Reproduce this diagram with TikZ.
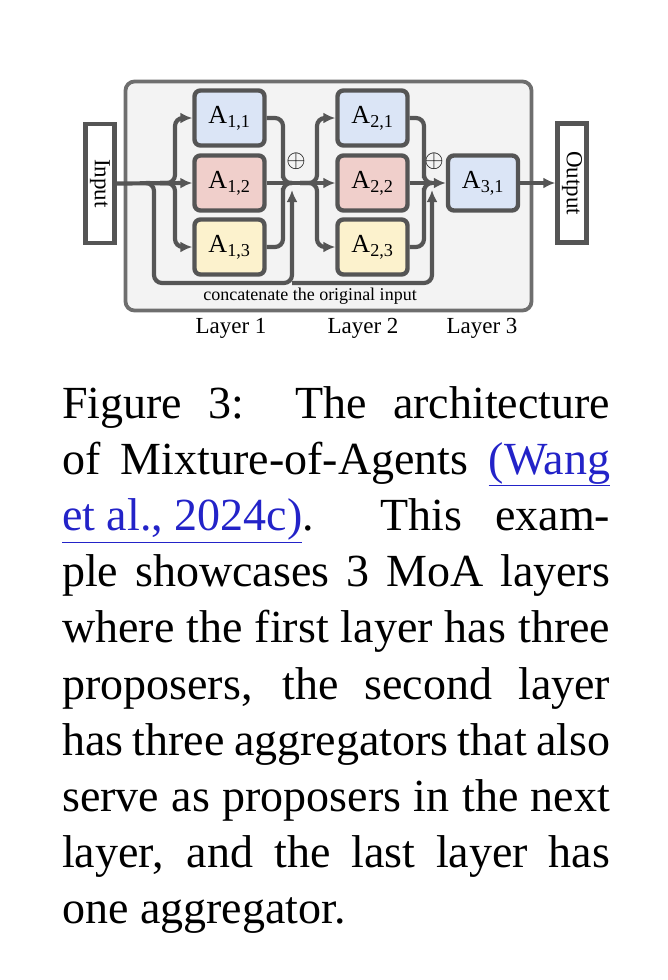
\documentclass[tikz,border=0pt]{standalone}
\usepackage{fontspec}
\setmainfont{Liberation Serif}
\usetikzlibrary{arrows.meta,positioning}
\definecolor{Agent-B}{RGB}{219, 229, 246}
\definecolor{Agent-R}{RGB}{240, 207, 203}
\definecolor{Agent-Y}{RGB}{252, 242, 205}
\definecolor{Line-G}{RGB}{85, 85, 85}
\definecolor{Box-G}{RGB}{243, 243, 243}
\definecolor{Link-B}{RGB}{35, 35, 200}

\begin{document}
\begin{tikzpicture}[x=1pt, y=-1pt, font=\fontsize{23}{25}\selectfont,
  agent/.style={rectangle, rounded corners=6pt, draw=Line-G, line width=4.4pt, minimum width=70pt, minimum height=55pt, inner sep=0pt, font=\fontsize{26}{28}\selectfont},
  io/.style={rectangle, draw=Line-G, line width=4.4pt, fill=white, minimum width=119pt, minimum height=29pt, inner sep=0pt, rotate=-90},
  flow/.style={draw=Line-G, line width=4.2pt, rounded corners=8pt},
  arr/.style={flow, -{Latex[length=12pt,width=11pt]}}]

\useasboundingbox (0,0) rectangle (668,980);

\node [rectangle, rounded corners=9pt, draw=Line-G!85, fill=Box-G, line width=3.8pt, minimum width=406pt, minimum height=229pt] (moa) at (328.5,196) {};

\node [io] (in) at (100,183.5) {Input};
\node [io] (out) at (572,183) {Output};

\node [agent, fill=Agent-B] (a11) at (229.5,118) {A\textsubscript{1,1}};
\node [agent, fill=Agent-R] (a12) at (229.5,183) {A\textsubscript{1,2}};
\node [agent, fill=Agent-Y] (a13) at (229.5,247) {A\textsubscript{1,3}};
\node [agent, fill=Agent-B] (a21) at (372.5,118) {A\textsubscript{2,1}};
\node [agent, fill=Agent-R] (a22) at (372.5,183) {A\textsubscript{2,2}};
\node [agent, fill=Agent-Y] (a23) at (372.5,247) {A\textsubscript{2,3}};
\node [agent, fill=Agent-B] (a31) at (483,183) {A\textsubscript{3,1}};

\coordinate (m1) at (292,183);
\coordinate (m2) at (432,183);
\node (p1) at (296,161) {$\oplus$};
\node (p2) at (434,161) {$\oplus$};

% layer 1
\draw [arr] (in.north) -- (a12.west);
\draw [arr] (160,183) -- (175,183) |- (a11.west);
\draw [arr] (160,183) -- (175,183) |- (a13.west);
\draw [flow] (a11.east) -| (283,170) |- (m1);
\draw [flow] (a13.east) -| (283,196) |- (m1);
\draw [flow] (a12.east) -- (m1);
% layer 2
\draw [arr] (m1) -- (a22.west);
\draw [arr] (300,183) -- (317,183) |- (a21.west);
\draw [arr] (300,183) -- (317,183) |- (a23.west);
\draw [flow] (a21.east) -| (424,170) |- (m2);
\draw [flow] (a23.east) -| (424,196) |- (m2);
\draw [arr] (a22.east) -- (a31.west);
\draw [arr] (a31.east) -- (out.south);
% original input
\draw [arr] (150,183) -| (154,283) -| (292,190);
\draw [arr] (292,283) -| (432,190);

\node [font=\fontsize{18}{20}\selectfont] (concat) at (310,296) {concatenate the original input};
\node (l1) at (231,328) {Layer 1};
\node (l2) at (363,328) {Layer 2};
\node (l3) at (482,328) {Layer 3};

\node [text width=548pt, align=justify, anchor=north west, inner sep=0pt, font=\fontsize{46}{56.2}\selectfont] (cap) at (62,386) {%
Figure 3:\ \ The architecture\linebreak
of Mixture-of-Agents \textcolor{Link-B}{\underline{(Wang}}\linebreak
\textcolor{Link-B}{\underline{et al., 2024c)}}.\ \ This exam-\linebreak
ple showcases 3 MoA layers\linebreak
where the first layer has three\linebreak
proposers, the second layer\linebreak
has three aggregators that also\linebreak
serve as proposers in the next\linebreak
layer, and the last layer has\linebreak
one aggregator.};

\end{tikzpicture}
\end{document}
